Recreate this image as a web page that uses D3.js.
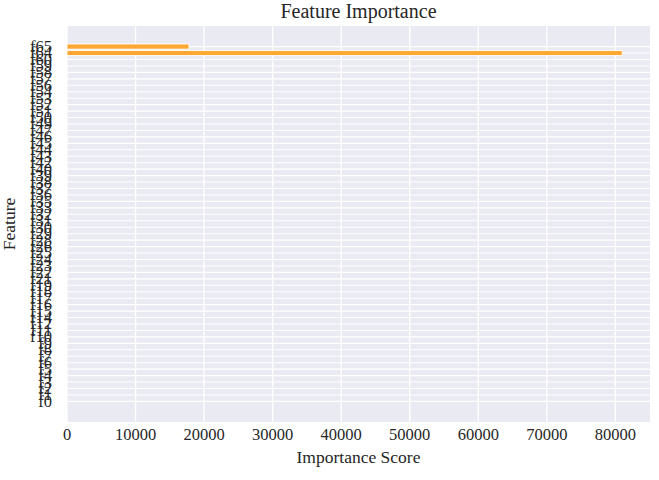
<!DOCTYPE html>
<html>
<head>
<meta charset="utf-8">
<script src="https://cdn.jsdelivr.net/npm/d3@7"></script>
<style>
body{margin:0;background:#fff;}
</style>
</head>
<body>
<div class="chart"></div>
<script>
// features listed bottom -> top, as drawn
var features = ['f0','f1','f2','f3','f4','f5','f6','f7','f8','f9','f10',
	'f11','f12','f14','f15','f16','f17','f18','f19','f21','f22','f23','f24','f25','f26',
	'f28','f29','f30','f31','f32','f33','f35','f36','f37','f38','f39','f40',
	'f42','f43','f44','f45','f46','f47','f49','f50','f51','f52','f53','f54',
	'f56','f57','f58','f59','f60','f64','f65'];
var importance = [0,0,0,0,0,0,0,0,0,0,0,
	0,0,0,0,0,0,0,0,0,0,0,0,0,0,
	0,0,0,0,0,0,0,0,0,0,0,0,
	0,0,0,0,0,0,0,0,0,0,0,0,
	0,0,0,0,0,81000,17800];
var xTickValues = [0,10000,20000,30000,40000,50000,60000,70000,80000];

var width = 659, height = 480;
var plotLeft = 67, plotRight = 650, plotTop = 26, plotBottom = 422;
var fontFamily = "'Liberation Serif','Times New Roman',serif";
var textColor = '#262626';
var backColor = '#eaeaf2', gridColor = '#ffffff';
var barColor = '#ffa733';

var svg = d3.select('.chart')
	.append('svg')
	.attr('width', width)
	.attr('height', height)
	.append('g');

var n = features.length;
var span = n - 0.2;  // bars of height 0.8 around integer positions
var pad = span*0.05;
var y = d3.scaleLinear()
	.domain([-0.4 - pad, n - 1 + 0.4 + pad])
	.range([plotBottom, plotTop]);
var x = d3.scaleLinear()
	.domain([0, d3.max(importance)*1.05])
	.range([plotLeft, plotRight]);

svg.append('rect')
	.attr('x', plotLeft)
	.attr('y', plotTop)
	.attr('width', plotRight - plotLeft)
	.attr('height', plotBottom - plotTop)
	.attr('fill', backColor);

// grid
svg.selectAll('.hgrid').data(features).enter()
	.append('line')
	.attr('x1', plotLeft).attr('x2', plotRight)
	.attr('y1', function(d, i){ return y(i); })
	.attr('y2', function(d, i){ return y(i); })
	.attr('stroke', gridColor)
	.attr('stroke-width', 1.1);
svg.selectAll('.vgrid').data(xTickValues).enter()
	.append('line')
	.attr('x1', function(d){ return x(d); })
	.attr('x2', function(d){ return x(d); })
	.attr('y1', plotTop).attr('y2', plotBottom)
	.attr('stroke', gridColor)
	.attr('stroke-width', 1.3);

// bars
var barH = Math.abs(y(0.8) - y(0));
svg.selectAll('.bar').data(importance).enter()
	.append('rect')
	.attr('x', x(0))
	.attr('y', function(d, i){ return y(i) - barH/2; })
	.attr('width', function(d){ return x(d) - x(0); })
	.attr('height', barH)
	.attr('fill', barColor)
	.attr('stroke', function(d){ return d > 0 ? '#ffffff' : 'none'; })
	.attr('stroke-width', 0.9);

// y tick labels
svg.selectAll('.ylab').data(features).enter()
	.append('text')
	.attr('x', 52)
	.attr('y', function(d, i){ return y(i); })
	.attr('dy', '0.33em')
	.attr('text-anchor', 'end')
	.attr('font-family', fontFamily)
	.attr('font-size', 16.5)
	.attr('fill', textColor)
	.text(function(d){ return d; });

// x tick labels
svg.selectAll('.xlab').data(xTickValues).enter()
	.append('text')
	.attr('x', function(d){ return x(d); })
	.attr('y', 440)
	.attr('text-anchor', 'middle')
	.attr('font-family', fontFamily)
	.attr('font-size', 16.5)
	.attr('fill', textColor)
	.text(function(d){ return d; });

svg.append('text')
	.attr('x', (plotLeft + plotRight)/2)
	.attr('y', 18)
	.attr('text-anchor', 'middle')
	.attr('font-family', fontFamily)
	.attr('font-size', 20)
	.attr('fill', textColor)
	.text('Feature Importance');

svg.append('text')
	.attr('x', (plotLeft + plotRight)/2)
	.attr('y', 463)
	.attr('text-anchor', 'middle')
	.attr('font-family', fontFamily)
	.attr('font-size', 17.5)
	.attr('fill', textColor)
	.text('Importance Score');

svg.append('text')
	.attr('transform', 'translate(15,' + (plotTop + plotBottom)/2 + ') rotate(-90)')
	.attr('text-anchor', 'middle')
	.attr('font-family', fontFamily)
	.attr('font-size', 17.5)
	.attr('fill', textColor)
	.text('Feature');
</script>
</body>
</html>
